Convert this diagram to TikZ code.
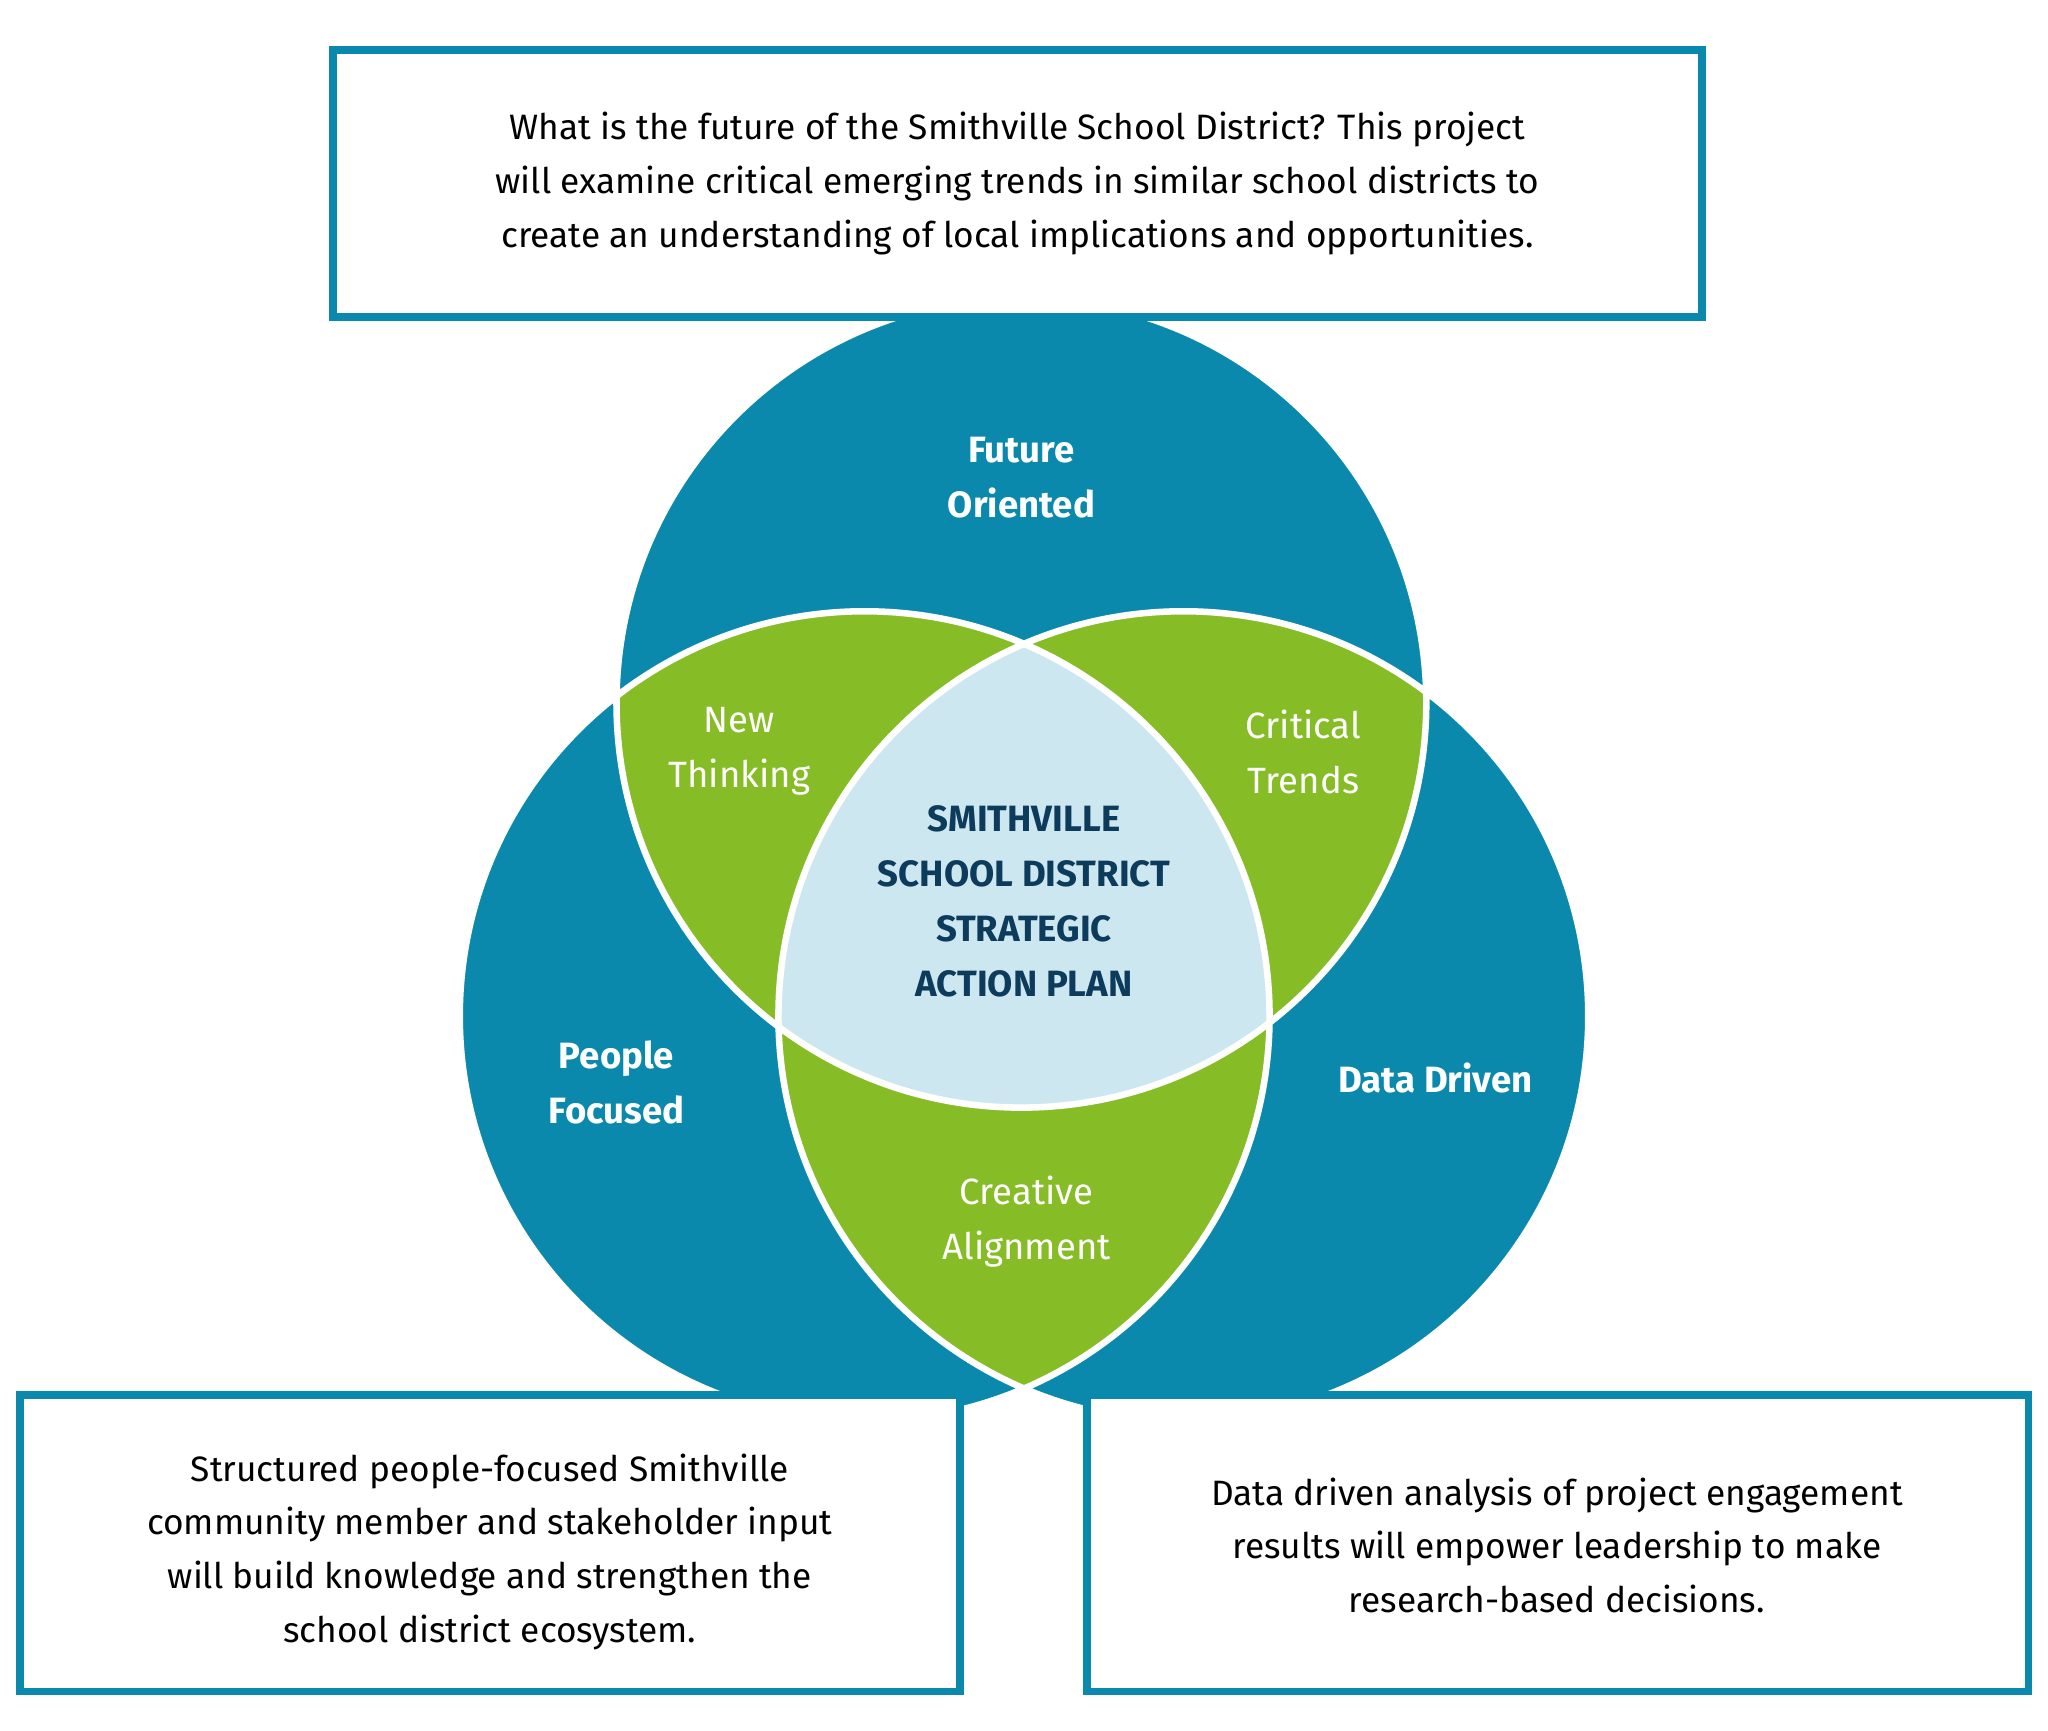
\documentclass[tikz,border=0pt]{standalone}
\usepackage{fontspec}
\setmainfont{Fira Sans}
\definecolor{tblue}{HTML}{0B89AD}
\definecolor{tgreen}{HTML}{86BC25}
\definecolor{tlight}{HTML}{CCE7F0}
\definecolor{tdark}{HTML}{0D3B5C}
\begin{document}
\begin{tikzpicture}[x=1pt,y=-1pt,
  box/.style={draw=tblue,line width=6pt,fill=white},
  body/.style={align=center,font=\fontsize{27}{41}\selectfont,text=black},
  lab/.style={align=center,font=\fontsize{28}{42}\selectfont\bfseries,text=white},
  sub/.style={align=center,font=\fontsize{28}{42}\selectfont,text=white},
  ctr/.style={align=center,font=\fontsize{28}{42}\selectfont\bfseries,text=tdark}]
\useasboundingbox (0,0) rectangle (1568,1325);
\fill[white] (0,0) rectangle (1568,1325);
\def\R{310}
\coordinate (T) at (782,538);
\coordinate (L) at (662,778);
\coordinate (Rr) at (906,778);
\fill[tblue] (T) circle (\R); \fill[tblue] (L) circle (\R); \fill[tblue] (Rr) circle (\R);
\begin{scope}\clip (T) circle (\R); \fill[tgreen] (L) circle (\R); \fill[tgreen] (Rr) circle (\R);\end{scope}
\begin{scope}\clip (L) circle (\R); \fill[tgreen] (Rr) circle (\R);\end{scope}
\begin{scope}\clip (T) circle (\R); \clip (L) circle (\R); \fill[tlight] (Rr) circle (\R);\end{scope}
\draw[white,line width=5pt] (T) circle (\R) (L) circle (\R) (Rr) circle (\R);
\node[box,minimum width=1048,minimum height=205] (top) at (779,140.5) {};
\node[body] (toptext) at (top) {What is the future of the Smithville School District? This project\\will examine critical emerging trends in similar school districts to\\create an understanding of local implications and opportunities.};
\node[box,minimum width=720,minimum height=227] (bl) at (375,1181.5) {};
\node[body] (bltext) at (375,1188) {Structured people-focused Smithville\\community member and stakeholder input\\will build knowledge and strengthen the\\school district ecosystem.};
\node[box,minimum width=721,minimum height=227] (br) at (1192.5,1181.5) {};
\node[body] (brtext) at (1192,1183) {Data driven analysis of project engagement\\results will empower leadership to make\\research-based decisions.};
\node[lab] (fo) at (782,366) {Future\\Oriented};
\node[lab] (pf) at (472,829) {People\\Focused};
\node[lab] (dd) at (1099,825) {Data Driven};
\node[sub] (nt) at (566,575) {New\\Thinking};
\node[sub] (ct) at (998,576) {Critical\\Trends};
\node[sub] (ca) at (786,935) {Creative\\Alignment};
\node[ctr] (c) at (784,690) {SMITHVILLE\\SCHOOL DISTRICT\\STRATEGIC\\ACTION PLAN};
\end{tikzpicture}
\end{document}
